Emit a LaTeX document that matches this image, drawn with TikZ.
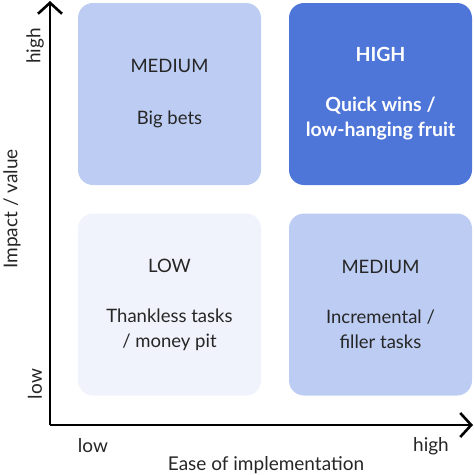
\documentclass[tikz,border=0pt]{standalone}
\usepackage{fontspec}
\setmainfont{Lato}
\usetikzlibrary{arrows.meta}

\definecolor{midblue}{RGB}{188,204,242}
\definecolor{topblue}{RGB}{78,117,216}
\definecolor{lowblue}{RGB}{240,243,251}

\begin{document}
\begin{tikzpicture}[x=1pt, y=-1pt,
    quad/.style={minimum width=183pt, minimum height=182pt, rounded corners=15pt,
      align=center, inner sep=0pt, font=\fontsize{18.5}{25}\selectfont, text=black!85},
    axis/.style={line width=2.6pt, -{Straight Barb[length=11pt, width=24pt, line width=2.6pt]}},
    tick/.style={font=\fontsize{19}{22}\selectfont, text=black!85}]
        \useasboundingbox (0,0) rectangle (474,475);
        \node[quad, fill=midblue] (bigbets) at (169.5,94) {MEDIUM\\[27pt]Big bets};
        \node[quad, fill=topblue, text=white, font=\fontsize{19.5}{25}\selectfont\bfseries] (quickwins) at (380.5,94) {HIGH\\[25pt]Quick wins /\\low-hanging fruit};
        \node[quad, fill=lowblue] (thankless) at (169.5,304.5) {LOW\\[25pt]Thankless tasks\\/ money pit};
        \node[quad, fill=midblue] (incremental) at (380.5,304.5) {MEDIUM\\[25pt]Incremental /\\filler tasks};
        \coordinate (origin) at (50,425);
        \coordinate (ytop) at (50,1);
        \coordinate (xend) at (473,425);
        \draw[axis] (origin) -- (ytop);
        \draw[axis] (origin) -- (xend);
        \node[tick, rotate=90] (yhigh) at (35,46) {high};
        \node[tick, rotate=90] (ylow) at (35,384) {low};
        \node[tick, rotate=90] (ylabel) at (12,209) {Impact / value};
        \node[tick] (xlow) at (93,446) {low};
        \node[tick] (xhigh) at (431,446) {high};
        \node[tick] (xlabel) at (266,465) {Ease of implementation};
      \end{tikzpicture}
\end{document}
